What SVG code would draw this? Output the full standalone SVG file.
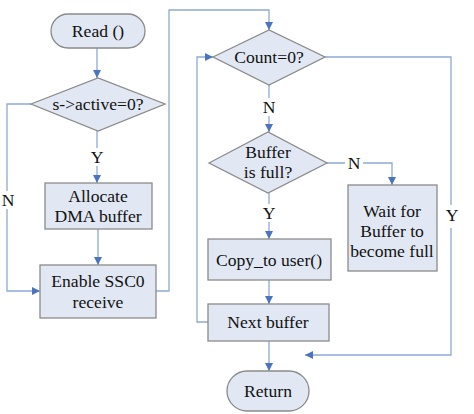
<svg xmlns="http://www.w3.org/2000/svg" width="474" height="414" viewBox="0 0 474 414">
<defs>
<marker id="ah" viewBox="0 0 10 10" refX="10" refY="5" markerWidth="8" markerHeight="8" markerUnits="userSpaceOnUse" orient="auto">
<path d="M0,0 L10,5 L0,10 z" fill="#4a74c0"/>
</marker>
<style>
.s{fill:#e1e8f3;stroke:#8a8a8a;stroke-width:1.3}
.t{font-family:'Liberation Serif','DejaVu Serif',serif;font-size:17.6px;fill:#111111;text-anchor:middle}
.c{fill:none;stroke:#8fa9d6;stroke-width:1.3}
.a{marker-end:url(#ah)}
</style>
</defs>
<rect width="474" height="414" fill="#ffffff"/>
<g id="connectors">
<path class="c a" d="M97,48 V78"/>
<path class="c a" d="M97,131 V183"/>
<path class="c a" d="M98,229 V265"/>
<path class="c a" d="M31,104 H7 V291 H40"/>
<path class="c a" d="M156,291 H169 V10 H269 V30"/>
<path class="c a" d="M269,85 V132"/>
<path class="c a" d="M327,163 H392 V185"/>
<path class="c a" d="M269,193 V239"/>
<path class="c a" d="M269,280 V304"/>
<path class="c a" d="M208,322 H197 V57 H213"/>
<path class="c a" d="M269,341 V371"/>
<path class="c" d="M325,57 H451 V205"/>
<path class="c a" d="M451,228 V355 H305"/>
<rect x="88" y="148" width="18" height="18" fill="#ffffff"/>
<rect x="260" y="98" width="18" height="18" fill="#ffffff"/>
<rect x="260" y="204" width="18" height="18" fill="#ffffff"/>
<rect x="345" y="154" width="18" height="18" fill="#ffffff"/>
<rect x="0" y="191" width="16" height="18" fill="#ffffff"/>
<text class="t" x="97" y="163">Y</text>
<text class="t" x="8" y="206">N</text>
<text class="t" x="269" y="113">N</text>
<text class="t" x="269" y="219">Y</text>
<text class="t" x="354" y="169">N</text>
<text class="t" x="452" y="221">Y</text>
</g>
<g id="read">
<rect class="s" x="51" y="14" width="94" height="34" rx="17"/>
<text class="t" x="98" y="37">Read ()</text>
</g>
<g id="active">
<path class="s" d="M31,104 L98,78 L165,104 L98,131 Z"/>
<text class="t" x="98" y="110">s-&gt;active=0?</text>
</g>
<g id="allocate">
<rect class="s" x="45" y="183" width="107" height="46"/>
<text class="t" x="98" y="202">Allocate</text>
<text class="t" x="98" y="222">DMA buffer</text>
</g>
<g id="enable">
<rect class="s" x="40" y="265" width="116" height="53"/>
<text class="t" x="98" y="287">Enable SSC0</text>
<text class="t" x="98" y="308">receive</text>
</g>
<g id="count">
<path class="s" d="M213,57 L269,30 L325,57 L269,85 Z"/>
<text class="t" x="269" y="63">Count=0?</text>
</g>
<g id="bufferfull">
<path class="s" d="M209,163 L268,132 L327,163 L268,193 Z"/>
<text class="t" x="268" y="158">Buffer</text>
<text class="t" x="268" y="178">is full?</text>
</g>
<g id="wait">
<rect class="s" x="348" y="185" width="89" height="86"/>
<text class="t" x="392" y="217">Wait for</text>
<text class="t" x="392" y="237">Buffer to</text>
<text class="t" x="392" y="257">become full</text>
</g>
<g id="copy">
<rect class="s" x="208" y="239" width="123" height="41"/>
<text class="t" x="269" y="266">Copy_to user()</text>
</g>
<g id="next">
<rect class="s" x="208" y="304" width="121" height="37"/>
<text class="t" x="268" y="328">Next buffer</text>
</g>
<g id="return">
<rect class="s" x="227" y="371" width="82" height="40" rx="20"/>
<text class="t" x="268" y="397">Return</text>
</g>
</svg>
